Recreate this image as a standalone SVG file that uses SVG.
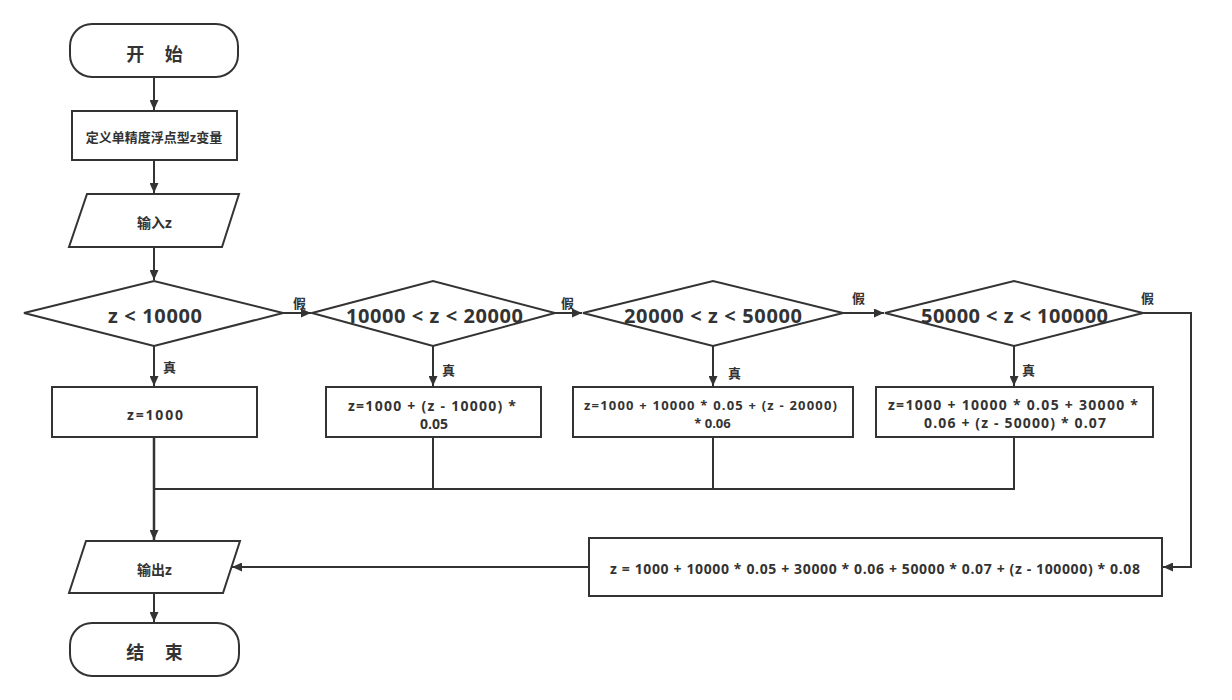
<svg xmlns="http://www.w3.org/2000/svg" width="1232" height="700" viewBox="0 0 1232 700">
<style>
.shape{fill:#ffffff;stroke:#333333;stroke-width:2}
.conn{fill:none;stroke:#333333;stroke-width:2}
text{font-family:"Open Sans","Noto Sans CJK SC",sans-serif;font-weight:bold;fill:#333333}
.c{text-anchor:middle}
.big{font-size:20px}
.mid{font-size:14px}
.sm{font-size:13px}
.cj{font-size:18px;word-spacing:16px}
.lbl{font-size:13px}
</style>
<defs>
<marker id="ah" markerWidth="10" markerHeight="9" refX="10" refY="4.5" orient="auto" markerUnits="userSpaceOnUse">
<path d="M0,0 L10,4.5 L0,9 z" fill="#333333"/>
</marker>
</defs>
<rect width="1232" height="700" fill="#ffffff"/>
<g id="connectors">
<path class="conn" d="M154,77 V110" marker-end="url(#ah)"/>
<path class="conn" d="M154,160 V193" marker-end="url(#ah)"/>
<path class="conn" d="M154,247 V280" marker-end="url(#ah)"/>
<path class="conn" d="M154,346 V386" marker-end="url(#ah)"/>
<path class="conn" d="M433,346 V386" marker-end="url(#ah)"/>
<path class="conn" d="M713,346 V386" marker-end="url(#ah)"/>
<path class="conn" d="M1014,346 V386" marker-end="url(#ah)"/>
<path class="conn" d="M283,313 H311" marker-end="url(#ah)"/>
<path class="conn" d="M555,313 H582" marker-end="url(#ah)"/>
<path class="conn" d="M843,313 H884" marker-end="url(#ah)"/>
<path class="conn" d="M1143,313 H1191 V567 H1163" marker-end="url(#ah)"/>
<path class="conn" d="M433,437 V489 H154"/>
<path class="conn" d="M713,437 V489"/>
<path class="conn" d="M1014,437 V489 H154"/>
<path class="conn" d="M154,437 V540" marker-end="url(#ah)" style="stroke-width:2.5"/>
<path class="conn" d="M589,567 H232" marker-end="url(#ah)"/>
<path class="conn" d="M154,593 V622" marker-end="url(#ah)"/>
<text class="lbl" x="293" y="308">假</text>
<text class="lbl" x="561" y="308">假</text>
<text class="lbl" x="852" y="303">假</text>
<text class="lbl" x="1141" y="303">假</text>
<text class="lbl" x="163" y="372">真</text>
<text class="lbl" x="442" y="375">真</text>
<text class="lbl" x="728" y="378">真</text>
<text class="lbl" x="1022" y="375">真</text>
</g>
<g id="start">
<rect class="shape" x="70" y="24" width="168" height="53" rx="22"/>
<text class="c cj" x="154.5" y="61">开 始</text>
</g>
<g id="define">
<rect class="shape" x="72" y="111" width="165" height="49"/>
<text class="c" x="154" y="142" style="font-size:13px">定义单精度浮点型z变量</text>
</g>
<g id="input">
<polygon class="shape" points="87,194 239,194 222,247 69,247"/>
<text class="c" x="154.5" y="228" style="font-size:14px">输入z</text>
</g>
<g id="d1">
<polygon class="shape" points="24,313 154,281 283,313 154,346"/>
<text class="c big" x="155" y="323" textLength="94" lengthAdjust="spacing">z &lt; 10000</text>
</g>
<g id="d2">
<polygon class="shape" points="312,313 433,281 555,313 433,346"/>
<text class="c big" x="434.5" y="323" textLength="177" lengthAdjust="spacing">10000 &lt; z &lt; 20000</text>
</g>
<g id="d3">
<polygon class="shape" points="583,313 713,281 843,313 713,346"/>
<text class="c big" x="713" y="323" textLength="178" lengthAdjust="spacing">20000 &lt; z &lt; 50000</text>
</g>
<g id="d4">
<polygon class="shape" points="885,313 1014,281 1143,313 1014,346"/>
<text class="c big" x="1014.5" y="323" textLength="187" lengthAdjust="spacing">50000 &lt; z &lt; 100000</text>
</g>
<g id="r1">
<rect class="shape" x="52" y="387" width="205" height="50"/>
<text class="c mid" x="155" y="420" textLength="56" lengthAdjust="spacing">z=1000</text>
</g>
<g id="r2">
<rect class="shape" x="326" y="387" width="215" height="50"/>
<text class="c mid" x="432" y="411" textLength="168" lengthAdjust="spacing">z=1000 + (z - 10000) *</text>
<text class="c mid" x="434" y="429">0.05</text>
</g>
<g id="r3">
<rect class="shape" x="573" y="387" width="280" height="50"/>
<text class="c sm" x="710.5" y="410" textLength="253" lengthAdjust="spacing">z=1000 + 10000 * 0.05 + (z - 20000)</text>
<text class="c sm" x="712.5" y="428">* 0.06</text>
</g>
<g id="r4">
<rect class="shape" x="876" y="387" width="277" height="50"/>
<text class="c mid" x="1013" y="410" textLength="250" lengthAdjust="spacing">z=1000 + 10000 * 0.05 + 30000 *</text>
<text class="c mid" x="1015" y="428" textLength="182" lengthAdjust="spacing">0.06 + (z - 50000) * 0.07</text>
</g>
<g id="r5">
<rect class="shape" x="589" y="538" width="573" height="58"/>
<text class="c mid" x="875" y="574" textLength="530" lengthAdjust="spacing">z = 1000 + 10000 * 0.05 + 30000 * 0.06 + 50000 * 0.07 + (z - 100000) * 0.08</text>
</g>
<g id="output">
<polygon class="shape" points="86,541 240,541 223,593 69,593"/>
<text class="c" x="154.5" y="575" style="font-size:14px">输出z</text>
</g>
<g id="end">
<rect class="shape" x="70" y="623" width="169" height="53" rx="22"/>
<text class="c cj" x="154.5" y="659">结 束</text>
</g>
</svg>
